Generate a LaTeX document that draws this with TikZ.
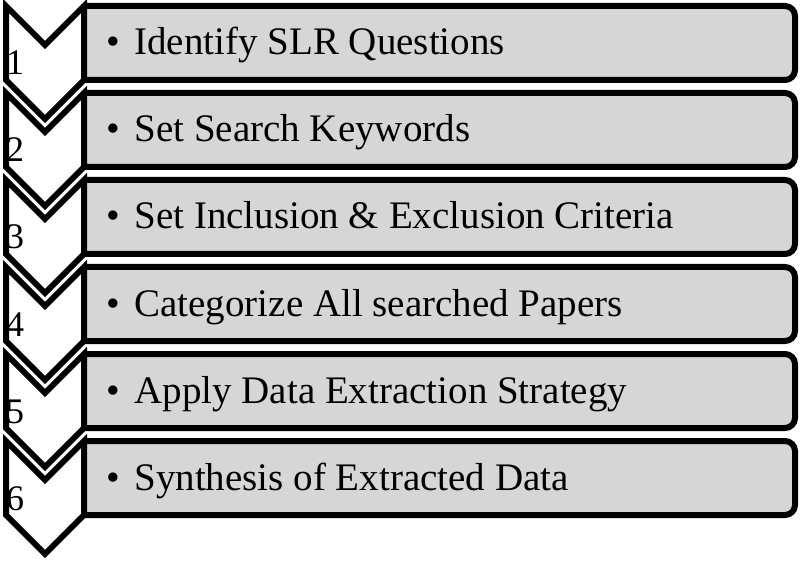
\documentclass[tikz,border=0pt]{standalone}
\usepackage{fontspec}
\setmainfont{Liberation Serif}
\definecolor{boxgray}{RGB}{214,214,214}
\tikzset{
  stepline/.style={line width=6pt, line join=miter},
  steptext/.style={anchor=base west, inner sep=0pt, font=\fontsize{39}{39}\selectfont},
  stepnum/.style={anchor=base west, inner sep=0pt, font=\fontsize{36}{36}\selectfont}
}
\begin{document}
\begin{tikzpicture}[x=1pt,y=-1pt]
  \useasboundingbox (0,0) rectangle (800,561);
  \foreach \k/\txt in {1/Identify SLR Questions, 2/Set Search Keywords, 3/Set Inclusion \& Exclusion Criteria, 4/Categorize All searched Papers, 5/Apply Data Extraction Strategy, 6/Synthesis of Extracted Data}{
    \pgfmathsetmacro{\ytop}{6+87*(\k-1)}
    \pgfmathsetmacro{\ybot}{80+87*(\k-1)}
    % gray box, rounded on the right only (left side hidden by chevron)
    \draw[stepline, fill=boxgray] (84,\ytop) [rounded corners=10pt] -- (795,\ytop) -- (795,\ybot) -- (84,\ybot);
    % chevron
    \draw[stepline, fill=white] (6,\ytop) -- (45,\ytop+39) -- (84,\ytop) -- (84,\ybot) -- (45,\ybot+39) -- (6,\ybot) -- cycle;
    \node[stepnum] (num\k) at (6,\ybot-5) {\k};
    \node[steptext] (txt\k) at (106,\ytop+49) {\textbullet\hspace{14.6pt}\txt};
  }
\end{tikzpicture}
\end{document}
